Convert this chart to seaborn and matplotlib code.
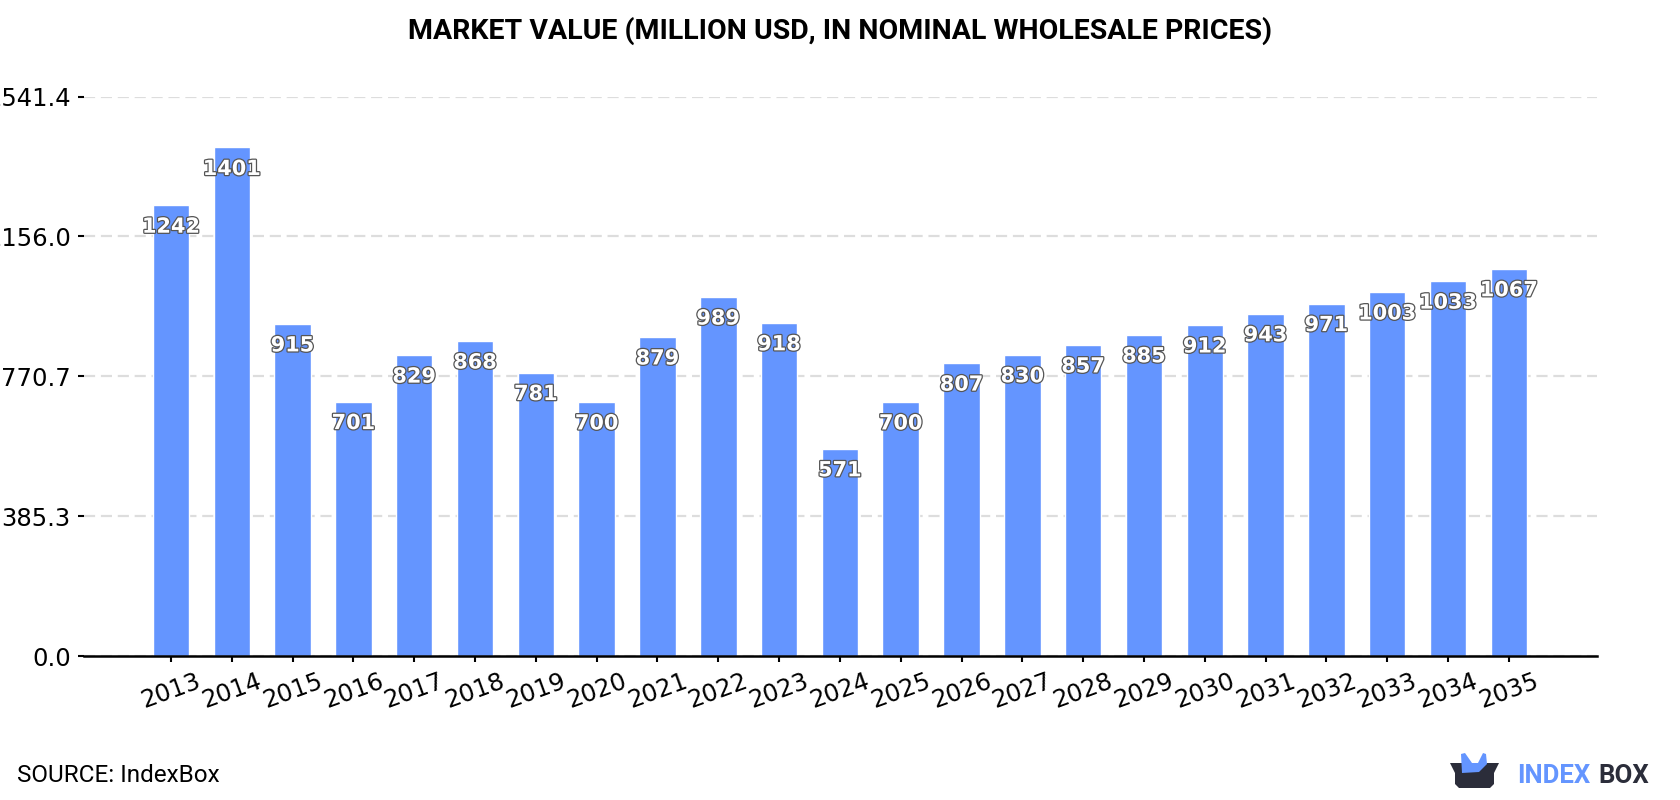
import matplotlib
matplotlib.use("Agg")
import matplotlib.pyplot as plt
import matplotlib.patheffects as pe
from matplotlib.patches import Polygon
from matplotlib.transforms import Affine2D
import pandas as pd
import seaborn as sns

years = [str(y) for y in range(2013, 2036)]
market_value = [1242, 1401, 915, 701, 829, 868, 781, 700, 879, 989, 918, 571,
                700, 807, 830, 857, 885, 912, 943, 971, 1003, 1033, 1067]
y_ticks = [0.0, 385.3, 770.7, 1156.0, 1541.4]

BAR_BLUE = "#6495FF"
LOGO_DARK = "#2B2D3A"

sns.set_theme(style="white")
W, H = 1680, 800
fig = plt.figure(figsize=(W / 100, H / 100), dpi=100, facecolor="white")
ax = fig.add_axes([84 / W, 1 - 656 / H, (1597 - 84) / W, (656 - 96.5) / H])

df = pd.DataFrame({"year": years, "value": market_value})
sns.barplot(data=df, x="year", y="value", color=BAR_BLUE, saturation=1, width=0.6, ax=ax, zorder=2)

ax.set_xlim(-1.43, 23.45)
ax.set_ylim(0, y_ticks[-1])
ax.set_xlabel("")
ax.set_ylabel("")
ax.set_yticks(y_ticks, [f"{t:.1f}" for t in y_ticks])
ax.tick_params(axis="y", labelsize=17.5, length=4.5, width=1.5, color="black", labelcolor="black", pad=5, left=True)
ax.tick_params(axis="x", labelsize=17.5, length=4.5, width=1.5, color="black", labelcolor="black", pad=5, rotation=20, bottom=True)

ax.grid(axis="y", color="#DDDDDD", linewidth=1.6, linestyle=(0, (5, 2.6)), zorder=0)
ax.set_axisbelow(True)
for side in ("top", "left", "right"):
    ax.spines[side].set_visible(False)
ax.spines["bottom"].set_color("black")
ax.spines["bottom"].set_linewidth(1.8)
ax.spines["bottom"].set_zorder(5)

# Value captions sit a fixed distance below each bar top
outline = [pe.withStroke(linewidth=1.8, foreground="#555555")]
for i, v in enumerate(market_value):
    ax.annotate(str(v), (i, v), xytext=(0, -15.5), textcoords="offset points",
                ha="center", va="center", fontsize=15, fontweight="bold",
                color="white", path_effects=outline, zorder=6, annotation_clip=False)

fig.text(0.5, 1 - 31 / H, "MARKET VALUE (MILLION USD, IN NOMINAL WHOLESALE PRICES)",
         ha="center", va="center", family="Roboto", fontweight="bold", fontsize=20.5, color="black")
fig.text(17 / W, 1 - 776 / H, "SOURCE: IndexBox", ha="left", va="center",
         family="Roboto", fontsize=17.5, color="black")

# IndexBox logo, laid out in pixel coordinates from the top-left corner
px = Affine2D().scale(1, -1).translate(0, H)
crown = [(1462, 773), (1461, 754), (1465, 753), (1472, 763), (1478, 763), (1483, 753),
         (1486, 754), (1487, 764), (1479, 772)]
box = [(1450, 763), (1499, 763), (1494, 773), (1494, 784), (1490, 788), (1459, 788),
       (1455, 784), (1455, 773)]
fig.add_artist(Polygon(box, closed=True, facecolor=LOGO_DARK, edgecolor="none", transform=px))
fig.add_artist(Polygon(crown, closed=True, facecolor=BAR_BLUE, edgecolor="none", transform=px))
fig.text(1517 / W, 1 - 783 / H, "INDEX", ha="left", va="baseline", family="Roboto",
         fontweight="bold", fontsize=18.5, color=BAR_BLUE)
fig.text(1649 / W, 1 - 783 / H, "BOX", ha="right", va="baseline", family="Roboto",
         fontweight="bold", fontsize=18.5, color=LOGO_DARK)

fig.savefig("out.png", dpi=100, facecolor="white")
